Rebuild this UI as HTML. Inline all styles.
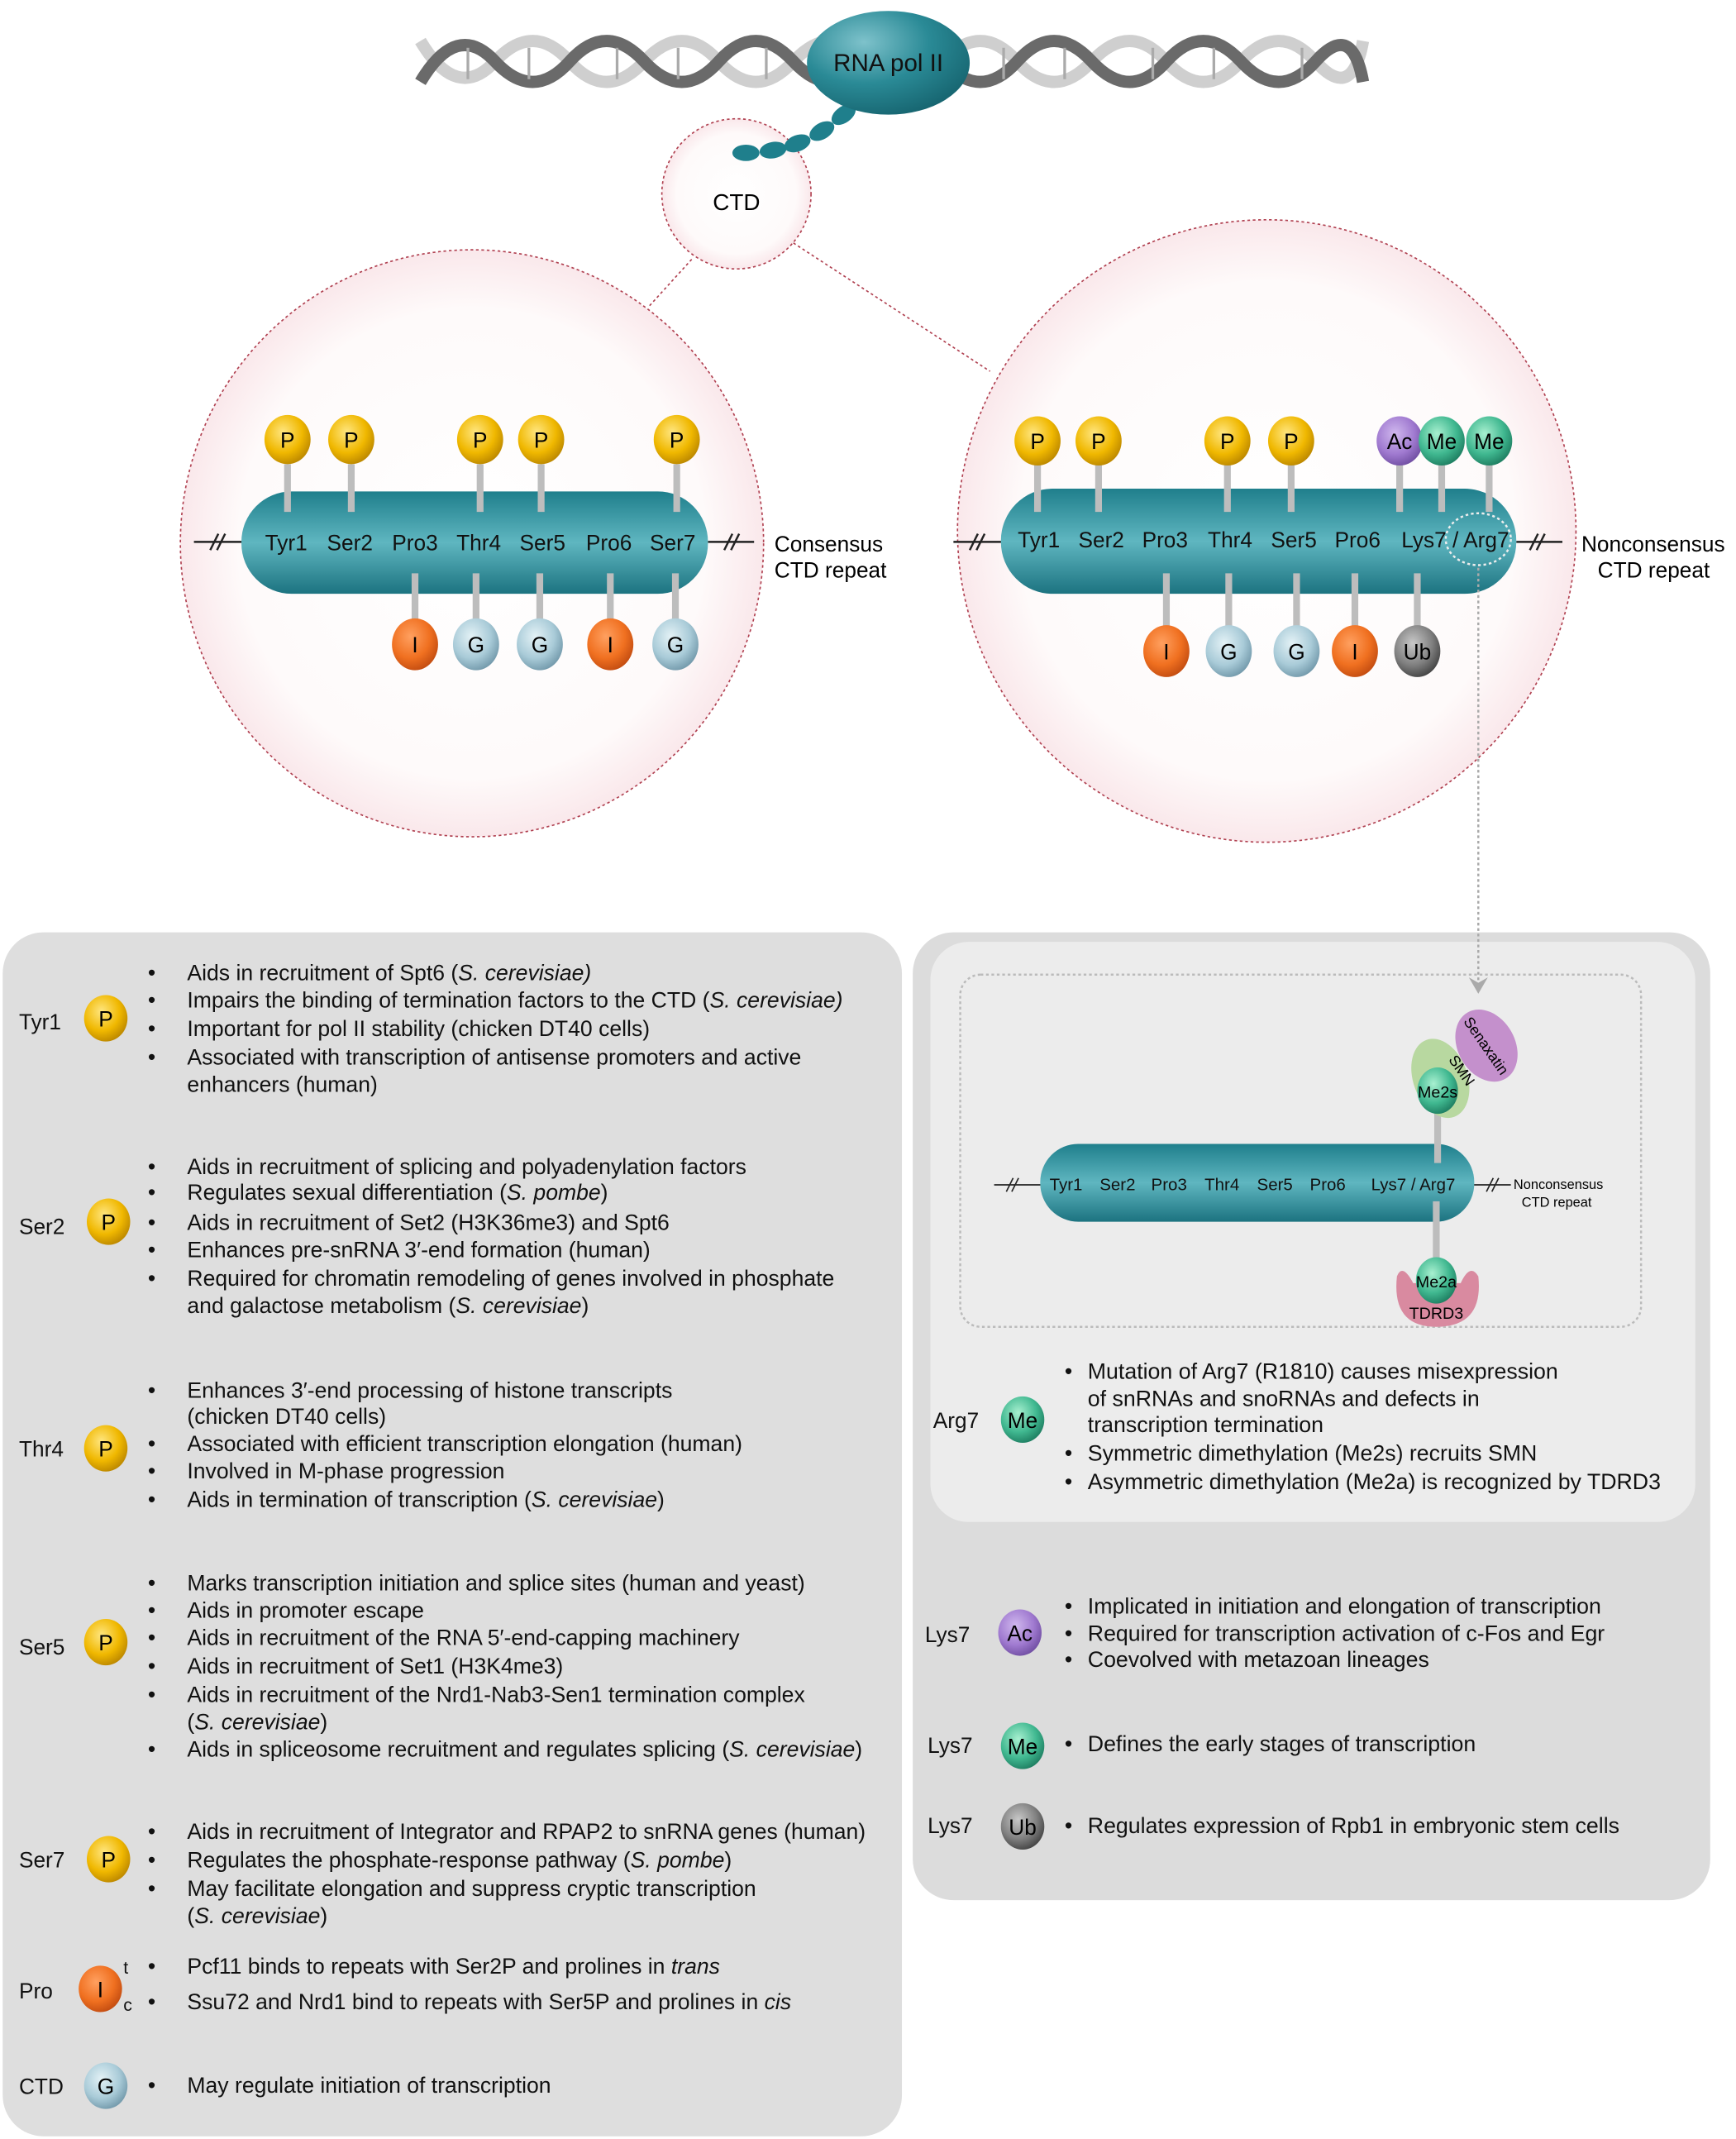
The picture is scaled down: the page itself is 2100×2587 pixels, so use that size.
<!DOCTYPE html>
<html><head><meta charset="utf-8"><style>html,body{margin:0;padding:0;background:#fff}svg{display:block}</style></head><body>
<svg width="2100" height="2587" viewBox="0 0 1280 1567" preserveAspectRatio="none" xmlns="http://www.w3.org/2000/svg" font-family="Liberation Sans, sans-serif">
<defs>
<linearGradient id="bar" x1="0" y1="0" x2="0" y2="1"><stop offset="0" stop-color="#1f7f8c"/><stop offset="0.5" stop-color="#5fb6c0"/><stop offset="1" stop-color="#1c7380"/></linearGradient>
<radialGradient id="pol" cx="0.35" cy="0.3" r="0.8"><stop offset="0" stop-color="#7ec2cb"/><stop offset="0.5" stop-color="#2a8a96"/><stop offset="1" stop-color="#14606b"/></radialGradient>
<radialGradient id="pink" cx="0.5" cy="0.5" r="0.5"><stop offset="0" stop-color="#fff"/><stop offset="0.8" stop-color="#fefafa"/><stop offset="1" stop-color="#fae8eb"/></radialGradient>
<radialGradient id="yl" cx="0.4" cy="0.35" r="0.7"><stop offset="0" stop-color="#ffe680"/><stop offset="0.6" stop-color="#f0b800"/><stop offset="1" stop-color="#b88400"/></radialGradient>
<radialGradient id="or" cx="0.4" cy="0.35" r="0.7"><stop offset="0" stop-color="#ffa060"/><stop offset="0.6" stop-color="#f07020"/><stop offset="1" stop-color="#c04a10"/></radialGradient>
<radialGradient id="gb" cx="0.4" cy="0.35" r="0.7"><stop offset="0" stop-color="#e4f2f6"/><stop offset="0.6" stop-color="#a9cbd8"/><stop offset="1" stop-color="#6f96a8"/></radialGradient>
<radialGradient id="pu" cx="0.4" cy="0.35" r="0.7"><stop offset="0" stop-color="#d0b8ee"/><stop offset="0.6" stop-color="#a07ad0"/><stop offset="1" stop-color="#6e4ca0"/></radialGradient>
<radialGradient id="gr" cx="0.4" cy="0.35" r="0.7"><stop offset="0" stop-color="#a8f0d0"/><stop offset="0.6" stop-color="#40b890"/><stop offset="1" stop-color="#1c7a5e"/></radialGradient>
<radialGradient id="ub" cx="0.4" cy="0.35" r="0.7"><stop offset="0" stop-color="#c8c8c8"/><stop offset="0.6" stop-color="#808080"/><stop offset="1" stop-color="#404040"/></radialGradient>
</defs>

<!-- DNA -->
<g fill="none" stroke-width="9">
<path d="M310,30 Q337,75 365,45 T420,45 T475,45 T530,45 T585,45 T640,45 T695,45 T750,45 T805,45 T860,45 T915,45 T970,45 T1005,30" stroke="#cfcfcf"/>
<path d="M310,60 Q337,15 365,45 T420,45 T475,45 T530,45 T585,45 T640,45 T695,45 T750,45 T805,45 T860,45 T915,45 T970,45 T1005,60" stroke="#6a6a6a"/>
</g>
<g stroke="#aaa" stroke-width="2">
<line x1="345" y1="35" x2="345" y2="58"/><line x1="390" y1="35" x2="390" y2="58"/><line x1="455" y1="35" x2="455" y2="58"/><line x1="500" y1="35" x2="500" y2="58"/><line x1="565" y1="35" x2="565" y2="58"/><line x1="740" y1="35" x2="740" y2="58"/><line x1="785" y1="35" x2="785" y2="58"/><line x1="850" y1="35" x2="850" y2="58"/><line x1="895" y1="35" x2="895" y2="58"/><line x1="960" y1="35" x2="960" y2="58"/></g>

<!-- CTD circle and links -->
<circle cx="543" cy="142" r="55" fill="url(#pink)" stroke="#b04050" stroke-width="1" stroke-dasharray="2,2"/>
<line x1="510" y1="190" x2="478" y2="225" stroke="#b04050" stroke-dasharray="2,2"/>
<line x1="585" y1="178" x2="730" y2="272" stroke="#b04050" stroke-dasharray="2,2"/>
<text x="543" y="154" font-size="17" text-anchor="middle">CTD</text>

<!-- pol II -->
<g fill="#1f7f8c"><ellipse cx="622" cy="84" rx="10" ry="6" transform="rotate(-35 622 84)"/><ellipse cx="606" cy="96" rx="10" ry="6" transform="rotate(-30 606 96)"/><ellipse cx="588" cy="105" rx="10" ry="6" transform="rotate(-20 588 105)"/><ellipse cx="570" cy="110" rx="10" ry="6" transform="rotate(-10 570 110)"/><ellipse cx="550" cy="112" rx="10" ry="6"/></g>
<ellipse cx="655" cy="46" rx="60" ry="38" fill="url(#pol)"/>
<text x="655" y="52" font-size="18" text-anchor="middle" fill="#111">RNA pol II</text>

<!-- Big circles -->
<circle cx="348" cy="398" r="215" fill="url(#pink)" stroke="#b04050" stroke-dasharray="2,2"/>
<circle cx="934" cy="389" r="228" fill="url(#pink)" stroke="#b04050" stroke-dasharray="2,2"/>

<!-- Left bar -->
<g stroke="#222" stroke-width="1.5"><line x1="143" y1="397" x2="180" y2="397"/><line x1="522" y1="397" x2="556" y2="397"/><line x1="155" y1="403" x2="161" y2="391"/><line x1="160" y1="403" x2="166" y2="391"/><line x1="534" y1="403" x2="540" y2="391"/><line x1="539" y1="403" x2="545" y2="391"/></g>
<rect x="178" y="360" width="344" height="75" rx="37" fill="url(#bar)"/>
<g stroke="#bdbdbd" stroke-width="5">
<line x1="212" y1="340" x2="212" y2="375"/><line x1="259" y1="340" x2="259" y2="375"/><line x1="354" y1="340" x2="354" y2="375"/><line x1="399" y1="340" x2="399" y2="375"/><line x1="499" y1="340" x2="499" y2="375"/>
<line x1="306" y1="420" x2="306" y2="460"/><line x1="351" y1="420" x2="351" y2="460"/><line x1="398" y1="420" x2="398" y2="460"/><line x1="450" y1="420" x2="450" y2="460"/><line x1="498" y1="420" x2="498" y2="460"/></g>
<g font-size="16" text-anchor="middle" fill="#111">
<text x="211" y="403">Tyr1</text><text x="258" y="403">Ser2</text><text x="306" y="403">Pro3</text><text x="353" y="403">Thr4</text><text x="400" y="403">Ser5</text><text x="449" y="403">Pro6</text><text x="496" y="403">Ser7</text></g>
<g font-size="16" text-anchor="middle">
<ellipse cx="212" cy="322" rx="17" ry="18" fill="url(#yl)"/><text x="212" y="328">P</text>
<ellipse cx="259" cy="322" rx="17" ry="18" fill="url(#yl)"/><text x="259" y="328">P</text>
<ellipse cx="354" cy="322" rx="17" ry="18" fill="url(#yl)"/><text x="354" y="328">P</text>
<ellipse cx="399" cy="322" rx="17" ry="18" fill="url(#yl)"/><text x="399" y="328">P</text>
<ellipse cx="499" cy="322" rx="17" ry="18" fill="url(#yl)"/><text x="499" y="328">P</text>
<ellipse cx="306" cy="472" rx="17" ry="19" fill="url(#or)"/><text x="306" y="478">I</text>
<ellipse cx="351" cy="472" rx="17" ry="19" fill="url(#gb)"/><text x="351" y="478">G</text>
<ellipse cx="398" cy="472" rx="17" ry="19" fill="url(#gb)"/><text x="398" y="478">G</text>
<ellipse cx="450" cy="472" rx="17" ry="19" fill="url(#or)"/><text x="450" y="478">I</text>
<ellipse cx="498" cy="472" rx="17" ry="19" fill="url(#gb)"/><text x="498" y="478">G</text></g>
<text x="571" y="404" font-size="16">Consensus</text><text x="571" y="423" font-size="16">CTD repeat</text>

<!-- Right bar -->
<g stroke="#222" stroke-width="1.5"><line x1="703" y1="397" x2="740" y2="397"/><line x1="1118" y1="397" x2="1152" y2="397"/><line x1="715" y1="403" x2="721" y2="391"/><line x1="720" y1="403" x2="726" y2="391"/><line x1="1128" y1="403" x2="1134" y2="391"/><line x1="1133" y1="403" x2="1139" y2="391"/></g>
<rect x="738" y="358" width="380" height="77" rx="38" fill="url(#bar)"/>
<g stroke="#bdbdbd" stroke-width="5">
<line x1="765" y1="338" x2="765" y2="375"/><line x1="810" y1="338" x2="810" y2="375"/><line x1="905" y1="338" x2="905" y2="375"/><line x1="952" y1="338" x2="952" y2="375"/><line x1="1032" y1="338" x2="1032" y2="375"/><line x1="1063" y1="338" x2="1063" y2="375"/><line x1="1098" y1="338" x2="1098" y2="375"/>
<line x1="860" y1="420" x2="860" y2="465"/><line x1="906" y1="420" x2="906" y2="465"/><line x1="956" y1="420" x2="956" y2="465"/><line x1="999" y1="420" x2="999" y2="465"/><line x1="1045" y1="420" x2="1045" y2="465"/></g>
<g font-size="16" text-anchor="middle" fill="#111">
<text x="766" y="401">Tyr1</text><text x="812" y="401">Ser2</text><text x="859" y="401">Pro3</text><text x="907" y="401">Thr4</text><text x="954" y="401">Ser5</text><text x="1001" y="401">Pro6</text><text x="1073" y="401">Lys7 / Arg7</text></g>
<ellipse cx="1090" cy="395" rx="24" ry="19" fill="none" stroke="#eee" stroke-width="1.5" stroke-dasharray="2,2"/>
<g font-size="16" text-anchor="middle">
<ellipse cx="765" cy="323" rx="17" ry="18" fill="url(#yl)"/><text x="765" y="329">P</text>
<ellipse cx="810" cy="323" rx="17" ry="18" fill="url(#yl)"/><text x="810" y="329">P</text>
<ellipse cx="905" cy="323" rx="17" ry="18" fill="url(#yl)"/><text x="905" y="329">P</text>
<ellipse cx="952" cy="323" rx="17" ry="18" fill="url(#yl)"/><text x="952" y="329">P</text>
<ellipse cx="1032" cy="323" rx="17" ry="18" fill="url(#pu)"/><text x="1032" y="329">Ac</text>
<ellipse cx="1063" cy="323" rx="17" ry="18" fill="url(#gr)"/><text x="1063" y="329">Me</text>
<ellipse cx="1098" cy="323" rx="17" ry="18" fill="url(#gr)"/><text x="1098" y="329">Me</text>
<ellipse cx="860" cy="477" rx="17" ry="19" fill="url(#or)"/><text x="860" y="483">I</text>
<ellipse cx="906" cy="477" rx="17" ry="19" fill="url(#gb)"/><text x="906" y="483">G</text>
<ellipse cx="956" cy="477" rx="17" ry="19" fill="url(#gb)"/><text x="956" y="483">G</text>
<ellipse cx="999" cy="477" rx="17" ry="19" fill="url(#or)"/><text x="999" y="483">I</text>
<ellipse cx="1045" cy="477" rx="17" ry="19" fill="url(#ub)"/><text x="1045" y="483">Ub</text></g>
<text x="1166" y="404" font-size="16">Nonconsensus</text><text x="1178" y="423" font-size="16">CTD repeat</text>

<!-- Panels -->
<rect x="2" y="683" width="663" height="882" rx="30" fill="#dedede"/>
<rect x="673" y="683" width="588" height="709" rx="30" fill="#dcdcdc"/>
<rect x="686" y="690" width="564" height="425" rx="28" fill="#ececec"/>
<line x1="1090" y1="416" x2="1090" y2="722" stroke="#aaa" stroke-width="1.5" stroke-dasharray="2,2"/>
<path d="M1083,716 L1090,728 L1097,716 L1090,720 Z" fill="#aaa"/>
<rect x="708" y="714" width="502" height="258" rx="15" fill="none" stroke="#bbb" stroke-width="1.5" stroke-dasharray="2,2"/>

<!-- inner diagram -->
<g stroke="#222" stroke-width="1"><line x1="733" y1="868" x2="770" y2="868"/><line x1="1084" y1="868" x2="1114" y2="868"/><line x1="742" y1="873" x2="747" y2="863"/><line x1="746" y1="873" x2="751" y2="863"/><line x1="1096" y1="873" x2="1101" y2="863"/><line x1="1100" y1="873" x2="1105" y2="863"/></g>
<rect x="767" y="838" width="320" height="57" rx="28" fill="url(#bar)"/>
<line x1="1060" y1="815" x2="1060" y2="852" stroke="#bdbdbd" stroke-width="5"/>
<line x1="1059" y1="880" x2="1059" y2="925" stroke="#bdbdbd" stroke-width="5"/>
<g font-size="12.5" text-anchor="middle" fill="#111">
<text x="786" y="872">Tyr1</text><text x="824" y="872">Ser2</text><text x="862" y="872">Pro3</text><text x="901" y="872">Thr4</text><text x="940" y="872">Ser5</text><text x="979" y="872">Pro6</text><text x="1042" y="872">Lys7 / Arg7</text></g>
<text x="1116" y="871" font-size="10">Nonconsensus</text><text x="1122" y="884" font-size="10">CTD repeat</text>
<ellipse cx="1062" cy="790" rx="20" ry="30" fill="#b8d8a0" transform="rotate(-20 1062 790)"/>
<ellipse cx="1096" cy="766" rx="21" ry="28" fill="#c490cc" transform="rotate(-30 1096 766)"/>
<text x="1096" y="770" font-size="11" text-anchor="middle" transform="rotate(55 1096 766)">Senaxatin</text>
<text x="1078" y="788" font-size="11" text-anchor="middle" transform="rotate(55 1078 784)">SMN</text>
<ellipse cx="1060" cy="799" rx="15" ry="17" fill="url(#gr)"/><text x="1060" y="804" font-size="12" text-anchor="middle">Me2s</text>
<path d="M1030,935 Q1026,972 1059,972 Q1094,972 1090,935 Q1084,925 1077,940 L1042,940 Q1034,925 1030,935 Z" fill="#d98aa0"/>
<ellipse cx="1059" cy="938" rx="15" ry="17" fill="url(#gr)"/><text x="1059" y="943" font-size="12" text-anchor="middle">Me2a</text>
<text x="1059" y="966" font-size="12" text-anchor="middle">TDRD3</text>

<!-- Left panel text -->
<g font-size="16" fill="#111">
<text x="14" y="754">Tyr1</text><text x="14" y="904">Ser2</text><text x="14" y="1067">Thr4</text><text x="14" y="1212">Ser5</text><text x="14" y="1368">Ser7</text><text x="14" y="1464">Pro</text><text x="14" y="1534">CTD</text>
<text x="91" y="1446" font-size="13">t</text><text x="91" y="1473" font-size="13">c</text>
</g>
<g font-size="16" text-anchor="middle">
<ellipse cx="78" cy="746" rx="16" ry="17" fill="url(#yl)"/><text x="78" y="752">P</text>
<ellipse cx="80" cy="895" rx="16" ry="17" fill="url(#yl)"/><text x="80" y="901">P</text>
<ellipse cx="78" cy="1061" rx="16" ry="17" fill="url(#yl)"/><text x="78" y="1067">P</text>
<ellipse cx="78" cy="1203" rx="16" ry="17" fill="url(#yl)"/><text x="78" y="1209">P</text>
<ellipse cx="80" cy="1362" rx="16" ry="17" fill="url(#yl)"/><text x="80" y="1368">P</text>
<ellipse cx="74" cy="1457" rx="16" ry="17" fill="url(#or)"/><text x="74" y="1463">I</text>
<ellipse cx="78" cy="1528" rx="16" ry="17" fill="url(#gb)"/><text x="78" y="1534">G</text>
<ellipse cx="754" cy="1040" rx="16" ry="17" fill="url(#gr)"/><text x="754" y="1046">Me</text>
<ellipse cx="752" cy="1196" rx="16" ry="17" fill="url(#pu)"/><text x="752" y="1202">Ac</text>
<ellipse cx="754" cy="1279" rx="16" ry="17" fill="url(#gr)"/><text x="754" y="1285">Me</text>
<ellipse cx="754" cy="1338" rx="16" ry="17" fill="url(#ub)"/><text x="754" y="1344">Ub</text>
</g>
<g font-size="16.2" fill="#111">
<g>
<text x="109" y="718">•</text><text x="138" y="718">Aids in recruitment of Spt6 (<tspan font-style="italic">S. cerevisiae)</tspan></text>
<text x="109" y="738">•</text><text x="138" y="738">Impairs the binding of termination factors to the CTD (<tspan font-style="italic">S. cerevisiae)</tspan></text>
<text x="109" y="759">•</text><text x="138" y="759">Important for pol II stability (chicken DT40 cells)</text>
<text x="109" y="780">•</text><text x="138" y="780">Associated with transcription of antisense promoters and active</text>
<text x="138" y="800">enhancers (human)</text>
</g>
<g>
<text x="109" y="860">•</text><text x="138" y="860">Aids in recruitment of splicing and polyadenylation factors</text>
<text x="109" y="879">•</text><text x="138" y="879">Regulates sexual differentiation (<tspan font-style="italic">S. pombe</tspan>)</text>
<text x="109" y="901">•</text><text x="138" y="901">Aids in recruitment of Set2 (H3K36me3) and Spt6</text>
<text x="109" y="921">•</text><text x="138" y="921">Enhances pre-snRNA 3′-end formation (human)</text>
<text x="109" y="942">•</text><text x="138" y="942">Required for chromatin remodeling of genes involved in phosphate</text>
<text x="138" y="962">and galactose metabolism (<tspan font-style="italic">S. cerevisiae</tspan>)</text>
</g>
<g>
<text x="109" y="1024">•</text><text x="138" y="1024">Enhances 3′-end processing of histone transcripts</text>
<text x="138" y="1043">(chicken DT40 cells)</text>
<text x="109" y="1063">•</text><text x="138" y="1063">Associated with efficient transcription elongation (human)</text>
<text x="109" y="1083">•</text><text x="138" y="1083">Involved in M-phase progression</text>
<text x="109" y="1104">•</text><text x="138" y="1104">Aids in termination of transcription (<tspan font-style="italic">S. cerevisiae</tspan>)</text>
</g>
<g>
<text x="109" y="1165">•</text><text x="138" y="1165">Marks transcription initiation and splice sites (human and yeast)</text>
<text x="109" y="1185">•</text><text x="138" y="1185">Aids in promoter escape</text>
<text x="109" y="1205">•</text><text x="138" y="1205">Aids in recruitment of the RNA 5′-end-capping machinery</text>
<text x="109" y="1226">•</text><text x="138" y="1226">Aids in recruitment of Set1 (H3K4me3)</text>
<text x="109" y="1247">•</text><text x="138" y="1247">Aids in recruitment of the Nrd1-Nab3-Sen1 termination complex</text>
<text x="138" y="1267">(<tspan font-style="italic">S. cerevisiae</tspan>)</text>
<text x="109" y="1287">•</text><text x="138" y="1287">Aids in spliceosome recruitment and regulates splicing (<tspan font-style="italic">S. cerevisiae</tspan>)</text>
</g>
<g>
<text x="109" y="1347">•</text><text x="138" y="1347">Aids in recruitment of Integrator and RPAP2 to snRNA genes (human)</text>
<text x="109" y="1368">•</text><text x="138" y="1368">Regulates the phosphate-response pathway (<tspan font-style="italic">S. pombe</tspan>)</text>
<text x="109" y="1389">•</text><text x="138" y="1389">May facilitate elongation and suppress cryptic transcription</text>
<text x="138" y="1409">(<tspan font-style="italic">S. cerevisiae</tspan>)</text>
</g>
<text x="109" y="1446">•</text><text x="138" y="1446">Pcf11 binds to repeats with Ser2P and prolines in <tspan font-style="italic">trans</tspan></text>
<text x="109" y="1472">•</text><text x="138" y="1472">Ssu72 and Nrd1 bind to repeats with Ser5P and prolines in <tspan font-style="italic">cis</tspan></text>
<text x="109" y="1533">•</text><text x="138" y="1533">May regulate initiation of transcription</text>
</g>

<!-- Right panel text -->
<g font-size="16" fill="#111">
<text x="688" y="1046">Arg7</text><text x="682" y="1203">Lys7</text><text x="684" y="1284">Lys7</text><text x="684" y="1343">Lys7</text>
</g>
<g font-size="16.3" fill="#111">
<text x="785" y="1010">•</text><text x="802" y="1010">Mutation of Arg7 (R1810) causes misexpression</text>
<text x="802" y="1030">of snRNAs and snoRNAs and defects in</text>
<text x="802" y="1049">transcription termination</text>
<text x="785" y="1070">•</text><text x="802" y="1070">Symmetric dimethylation (Me2s) recruits SMN</text>
<text x="785" y="1091">•</text><text x="802" y="1091">Asymmetric dimethylation (Me2a) is recognized by TDRD3</text>
<text x="785" y="1182">•</text><text x="802" y="1182">Implicated in initiation and elongation of transcription</text>
<text x="785" y="1202">•</text><text x="802" y="1202">Required for transcription activation of c-Fos and Egr</text>
<text x="785" y="1221">•</text><text x="802" y="1221">Coevolved with metazoan lineages</text>
<text x="785" y="1283">•</text><text x="802" y="1283">Defines the early stages of transcription</text>
<text x="785" y="1343">•</text><text x="802" y="1343">Regulates expression of Rpb1 in embryonic stem cells</text>
</g>
</svg>
</body></html>
